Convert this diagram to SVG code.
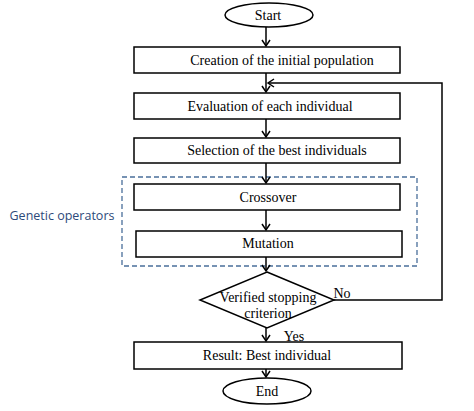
<svg xmlns="http://www.w3.org/2000/svg" width="474" height="411" viewBox="0 0 474 411" font-family="Liberation Serif, Times New Roman, serif">
<style>
.box{fill:#fff;stroke:#000;stroke-width:1.5}
.t{font-family:'Liberation Serif','Times New Roman',serif;font-size:14px;fill:#000;text-anchor:middle}
.c{fill:none;stroke:#000;stroke-width:1.5}
</style>
<defs>
<marker id="ah" markerWidth="10" markerHeight="10" refX="8" refY="5" orient="auto" markerUnits="userSpaceOnUse">
<polyline points="2,1 8,5 2,9" fill="none" stroke="#000" stroke-width="1.5"/>
</marker>
</defs>
<rect width="474" height="411" fill="#fff"/>
<g id="group-genetic">
<rect x="122" y="177" width="295" height="89" fill="none" stroke="#4a6f9a" stroke-width="1.3" stroke-dasharray="5,3"/>
<text x="62" y="220" font-family="Open Sans, Noto Sans, sans-serif" font-size="12.5" fill="#2e4a7a" text-anchor="middle">Genetic operators</text>
</g>
<g id="connectors">
<line class="c" x1="266" y1="27" x2="266" y2="46" marker-end="url(#ah)"/>
<line class="c" x1="266" y1="73" x2="266" y2="92" marker-end="url(#ah)"/>
<line class="c" x1="266" y1="119" x2="266" y2="137" marker-end="url(#ah)"/>
<line class="c" x1="266" y1="163" x2="266" y2="183" marker-end="url(#ah)"/>
<line class="c" x1="266" y1="210" x2="266" y2="230" marker-end="url(#ah)"/>
<line class="c" x1="266" y1="257" x2="266" y2="271" marker-end="url(#ah)"/>
<line class="c" x1="266" y1="328" x2="266" y2="341" marker-end="url(#ah)"/>
<line class="c" x1="266" y1="369" x2="266" y2="377" marker-end="url(#ah)"/>
<polyline class="c" points="334,300 442,300 442,83 268,83" marker-end="url(#ah)"/>
<text class="t" x="342" y="298">No</text>
<text class="t" x="294" y="341">Yes</text>
</g>
<g id="start">
<ellipse class="box" cx="269" cy="15" rx="44" ry="12"/>
<text class="t" x="268" y="20">Start</text>
</g>
<g id="creation">
<rect class="box" x="134" y="47" width="266" height="26"/>
<text class="t" x="282" y="65">Creation of the initial population</text>
</g>
<g id="evaluation">
<rect class="box" x="134" y="93" width="266" height="26"/>
<text class="t" x="270" y="111">Evaluation of each individual</text>
</g>
<g id="selection">
<rect class="box" x="134" y="138" width="266" height="25"/>
<text class="t" x="277" y="155">Selection of the best individuals</text>
</g>
<g id="crossover">
<rect class="box" x="134" y="184" width="266" height="26"/>
<text class="t" x="268" y="202">Crossover</text>
</g>
<g id="mutation">
<rect class="box" x="136" y="231" width="266" height="26"/>
<text class="t" x="268" y="248">Mutation</text>
</g>
<g id="decision">
<polygon class="box" points="267,272 334,300 267,328 200,300"/>
<text class="t" x="268" y="302">Verified stopping</text>
<text class="t" x="268" y="318">criterion</text>
</g>
<g id="result">
<rect class="box" x="134" y="342" width="268" height="27"/>
<text class="t" x="267" y="360">Result: Best individual</text>
</g>
<g id="end">
<ellipse class="box" cx="267" cy="391" rx="44" ry="13"/>
<text class="t" x="267" y="396">End</text>
</g>
</svg>
